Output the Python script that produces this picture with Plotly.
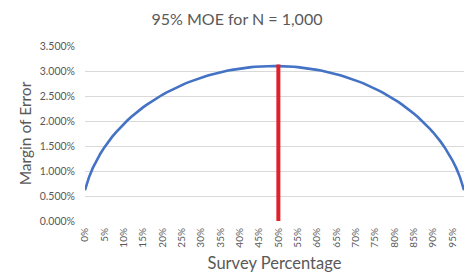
import plotly.graph_objects as go

# Survey percentage positions (category index 0..98) and margin of error (%)
x_pos = list(range(99))
moe = [0.617, 0.868, 1.057, 1.215, 1.351, 1.472, 1.582, 1.682, 1.774, 1.859,
       1.939, 2.014, 2.085, 2.151, 2.213, 2.272, 2.328, 2.381, 2.432, 2.479,
       2.525, 2.568, 2.608, 2.647, 2.684, 2.719, 2.752, 2.783, 2.813, 2.840,
       2.867, 2.891, 2.914, 2.936, 2.956, 2.975, 2.993, 3.009, 3.023, 3.036,
       3.048, 3.059, 3.069, 3.077, 3.084, 3.089, 3.094, 3.097, 3.098, 3.099,
       3.098, 3.097, 3.094, 3.089, 3.084, 3.077, 3.069, 3.059, 3.048, 3.036,
       3.023, 3.009, 2.993, 2.975, 2.956, 2.936, 2.914, 2.891, 2.867, 2.840,
       2.813, 2.783, 2.752, 2.719, 2.684, 2.647, 2.608, 2.568, 2.525, 2.479,
       2.432, 2.381, 2.328, 2.272, 2.213, 2.151, 2.085, 2.014, 1.939, 1.859,
       1.774, 1.682, 1.582, 1.472, 1.351, 1.215, 1.057, 0.868, 0.617]

tick_pos = list(range(0, 100, 5))
tick_labels = [f"{v}%" for v in range(0, 100, 5)]

marker_x = [50, 50]
marker_y = [0, 3.13]

y_ticks = [0, 0.5, 1.0, 1.5, 2.0, 2.5, 3.0, 3.5]
y_labels = ["0.000%", "0.500%", "1.000%", "1.500%", "2.000%", "2.500%", "3.000%", "3.500%"]

FONT = "Lato"
GREY = "#595959"

fig = go.Figure()
fig.add_trace(go.Scatter(x=x_pos, y=moe, mode="lines",
                         line=dict(color="#4472C4", width=2.6),
                         hoverinfo="skip", showlegend=False))
fig.add_trace(go.Scatter(x=marker_x, y=marker_y, mode="lines",
                         line=dict(color="#E0202A", width=4),
                         hoverinfo="skip", showlegend=False))

fig.update_layout(
    width=474, height=280,
    margin=dict(l=85, r=10, t=46, b=59),
    paper_bgcolor="white", plot_bgcolor="white",
    font=dict(family=FONT, color=GREY),
    title=dict(text="95% MOE for N = 1,000", x=0.5, xanchor="center",
               y=0.93, yanchor="middle",
               font=dict(family=FONT, size=16, color=GREY)),
    xaxis=dict(range=[0, 98], tickmode="array", tickvals=tick_pos,
               ticktext=tick_labels, tickangle=-90,
               tickfont=dict(family=FONT, size=10, color=GREY),
               ticklabelstandoff=4,
               showgrid=False, zeroline=False, showline=False, ticks="",
               title=dict(text="Survey Percentage",
                          font=dict(family=FONT, size=16.5, color=GREY),
                          standoff=10)),
    yaxis=dict(range=[0, 3.5], tickmode="array", tickvals=y_ticks,
               ticktext=y_labels,
               tickfont=dict(family=FONT, size=10.5, color=GREY),
               ticklabelstandoff=9,
               showgrid=True, gridcolor="#D9D9D9", gridwidth=1,
               zeroline=False, showline=False, ticks="",
               title=dict(text="Margin of Error",
                          font=dict(family=FONT, size=15.5, color=GREY),
                          standoff=4)),
)

fig.write_html("out.html")
